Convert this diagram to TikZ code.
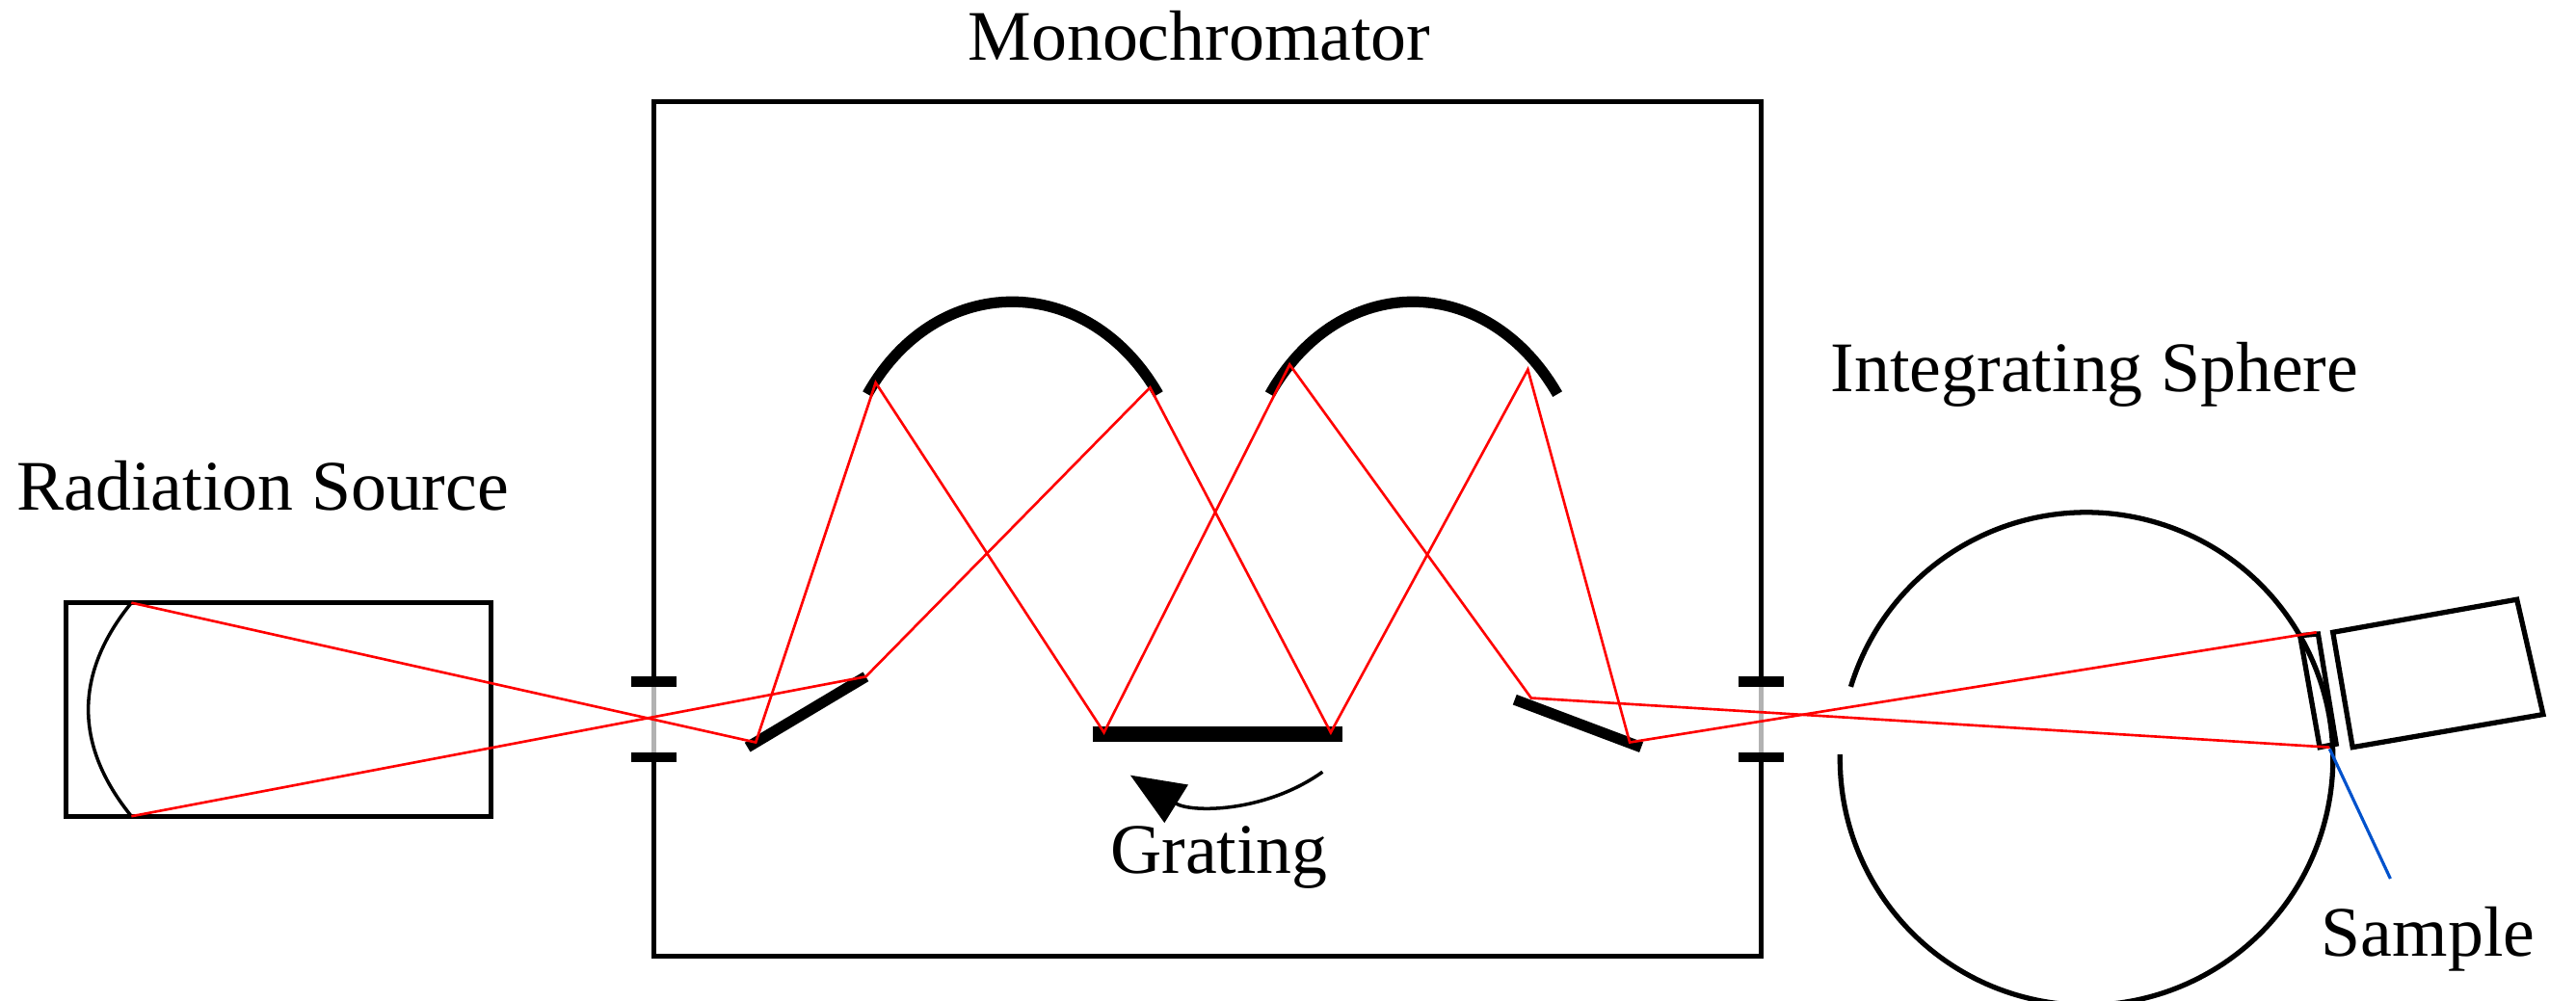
\documentclass[tikz,border=0pt]{standalone}
\usepackage{fontspec}
\setmainfont{Liberation Serif}
\usetikzlibrary{arrows.meta}
\begin{document}
\begin{tikzpicture}[x=0.017047cm,y=-0.017047cm,
  frame/.style={draw=black,line width=1.5pt},
  mirror/.style={draw=black,line width=3.2pt},
  ray/.style={draw=red,line width=0.75pt},
  lbl/.style={font=\fontsize{21}{24}\selectfont,inner sep=0pt}]
\useasboundingbox (0,0) rectangle (1568,609);
% source
\draw[frame] (40,367) rectangle (299,497);
\draw[black,line width=1pt] (80,367) .. controls (45,410) and (45,454) .. (80,497);
% monochromator box
\draw[frame] (398,62) rectangle (1072,582);
% slits
\foreach \sx in {398,1072}{
  \fill[white] (\sx-3,416) rectangle (\sx+3,460);
  \draw[gray!60,line width=1.2pt] (\sx,416) -- (\sx,460);
  \draw[black,line width=3pt] (\sx-14,415) -- (\sx+14,415);
  \draw[black,line width=3pt] (\sx-14,461) -- (\sx+14,461);
}
% mirrors
\draw[mirror] (455,455) -- (527,412);
\draw[mirror] (528,240) .. controls (570,165) and (662,165) .. (705,240);
\draw[mirror] (773,240) .. controls (815,165) and (905,165) .. (948,240);
\draw[line width=4.5pt] (665,447) -- (817,447);
\draw[mirror] (922,426) -- (999,455);
% sphere
\draw[frame] (1270,462) ++(197:150) arc (197:541:150);
% sample + detector
\draw[frame] (1400,387) -- (1411,386) -- (1422,453) -- (1412,455) -- cycle;
\draw[frame] (1420,385) -- (1532,365) -- (1548,435) -- (1432,455) -- cycle;
\draw[blue!60!cyan!80!black,line width=0.9pt] (1418,456) -- (1455,535);
% rays
\coordinate (s1) at (80,367); \coordinate (s2) at (80,497);
\coordinate (m1a) at (460,452); \coordinate (m1b) at (527,412);
\coordinate (c1a) at (533,233); \coordinate (c1b) at (700,236);
\coordinate (ga) at (672,446); \coordinate (gb) at (810,446);
\coordinate (c2a) at (785,222); \coordinate (c2b) at (930,225);
\coordinate (m2a) at (932,425); \coordinate (m2b) at (992,452);
\coordinate (sa) at (1410,385); \coordinate (sb) at (1418,455);
\draw[ray] (s1) -- (m1a) -- (c1a) -- (ga) -- (c2a) -- (m2a) -- (sb);
\draw[ray] (s2) -- (m1b) -- (c1b) -- (gb) -- (c2b) -- (m2b) -- (sa);
% rotation arrow
\draw[black,line width=1pt,-{Triangle[length=16pt,width=13pt]}] (805,470) .. controls (770,495) and (725,495) .. (688,472);
% labels
\node[lbl] (t1) at (730,22) {Monochromator};
\node[lbl] (t2) at (160,296) {Radiation Source};
\node[lbl] (t3) at (1275,228) {Integrating Sphere};
\node[lbl] (t4) at (742,522) {Grating};
\node[lbl] (t5) at (1478,572) {Sample};
\end{tikzpicture}
\end{document}
